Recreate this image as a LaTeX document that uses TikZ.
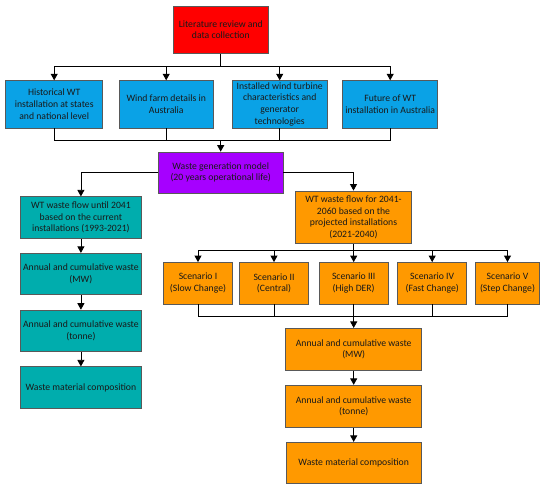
\documentclass[tikz,border=0pt]{standalone}
\usepackage{fontspec}
\setmainfont{Carlito}
\usepackage{tikz}
\usetikzlibrary{arrows.meta}
\definecolor{litred}{HTML}{FF0000}
\definecolor{datablue}{HTML}{0AA2E6}
\definecolor{modelpurple}{HTML}{A600FF}
\definecolor{curteal}{HTML}{00ADAD}
\definecolor{projorange}{HTML}{FF9900}

\begin{document}
\begin{tikzpicture}[x=1pt, y=-1pt, >={Triangle[length=6.5pt,width=7pt]},
  box/.style={draw=black!65, line width=0.7pt, align=center, inner sep=0.5pt,
    text=black!90, font=\fontsize{9.7}{11.7}\selectfont},
  link/.style={line width=0.8pt}]
\useasboundingbox (0,0) rectangle (550,490);
%box heights
\newcommand*{\BoxH}{41.5}
\newcommand*{\TallH}{47.3}
%data collection
\node[box, fill=litred, minimum width=95pt, minimum height=\TallH pt] (lit) at (220.8,29.7) {Literature review and\\data collection};
\node[box, fill=datablue, minimum width=97pt, minimum height=\TallH pt] (hist) at (54.2,104.3) {Historical WT\\installation at states\\and national level};
\node[box, fill=datablue, minimum width=94.5pt, minimum height=\TallH pt] (farm) at (166.2,104.3) {Wind farm details in\\Australia};
\node[box, fill=datablue, minimum width=94.7pt, minimum height=\TallH pt] (turb) at (279.7,104.3) {Installed wind turbine\\characteristics and\\generator\\technologies};
\node[box, fill=datablue, minimum width=95pt, minimum height=\TallH pt] (fut) at (390.2,104.3) {Future of WT\\installation in Australia};
%model
\node[box, fill=modelpurple, minimum width=124.5pt, minimum height=41pt] (model) at (220.7,172.5) {Waste generation model\\(20 years operational life)};
%current installations
\node[box, fill=curteal, minimum width=121.7pt, minimum height=\BoxH pt] (cur) at (80.9,217.5) {WT waste flow until 2041\\based on the current\\installations (1993-2021)};
\node[box, fill=curteal, minimum width=121.7pt, minimum height=\BoxH pt] (curmw) at (80.9,274) {Annual and cumulative waste\\(MW)};
\node[box, fill=curteal, minimum width=121.7pt, minimum height=\BoxH pt] (curt) at (80.9,330.8) {Annual and cumulative waste\\(tonne)};
\node[box, fill=curteal, minimum width=121.7pt, minimum height=\BoxH pt] (curmat) at (80.9,387.5) {Waste material composition};
%projected installations
\node[box, fill=projorange, minimum width=116.4pt, minimum height=52.7pt] (proj) at (353.5,217.3) {WT waste flow for 2041-\\2060 based on the\\projected installations\\(2021-2040)};
\node[box, fill=projorange, minimum width=68.6pt, minimum height=\BoxH pt] (scA) at (198,283.2) {Scenario I\\(Slow Change)};
\node[box, fill=projorange, minimum width=68.6pt, minimum height=\BoxH pt] (scB) at (274,283.2) {Scenario II\\(Central)};
\node[box, fill=projorange, minimum width=68.7pt, minimum height=\BoxH pt] (scC) at (353.7,283.2) {Scenario III\\(High DER)};
\node[box, fill=projorange, minimum width=69pt, minimum height=\BoxH pt] (scD) at (432.2,283.2) {Scenario IV\\(Fast Change)};
\node[box, fill=projorange, minimum width=64pt, minimum height=\BoxH pt] (scE) at (507.5,283.2) {Scenario V\\(Step Change)};
\node[box, fill=projorange, minimum width=136pt, minimum height=42pt] (projmw) at (353.7,349.3) {Annual and cumulative waste\\(MW)};
\node[box, fill=projorange, minimum width=136pt, minimum height=42pt] (projt) at (353.7,406.2) {Annual and cumulative waste\\(tonne)};
\node[box, fill=projorange, minimum width=135pt, minimum height=\BoxH pt] (projmat) at (353.7,463) {Waste material composition};
%junctions
\coordinate (split) at (220.8,66);
\coordinate (merge) at (220.7,140);
\coordinate (scsplit) at (353.7,250);
\coordinate (scmerge) at (353.7,316);
%arrows
\draw[link] (lit) -- (split);
\foreach \n in {hist,farm,turb,fut}
  \draw[link,->] (split) -| (\n.north);
\foreach \n in {hist,farm,turb,fut}
  \draw[link] (\n.south) |- (merge);
\draw[link,->] (merge) -- (model);
\draw[link,->] (model.west) -| (cur.north);
\draw[link,->] (model.east) -| (proj.north);
\draw[link,->] (cur) -- (curmw);
\draw[link,->] (curmw) -- (curt);
\draw[link,->] (curt) -- (curmat);
\draw[link] (proj.south) |- (scsplit);
\foreach \n in {scA,scB,scC,scD,scE}
  \draw[link,->] (scsplit) -| (\n.north);
\foreach \n in {scA,scB,scC,scD,scE}
  \draw[link] (\n.south) |- (scmerge);
\draw[link,->] (scmerge) -- (projmw);
\draw[link,->] (projmw) -- (projt);
\draw[link,->] (projt) -- (projmat);
\end{tikzpicture}
\end{document}
